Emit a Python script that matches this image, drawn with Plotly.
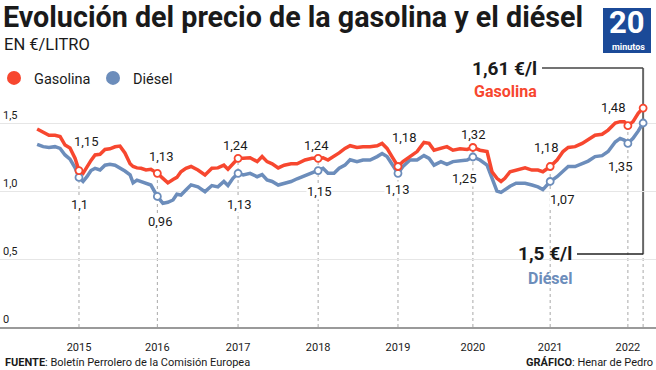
import plotly.graph_objects as go
import pandas as pd

# ---------------- data ----------------
fechas = [
    "2014-06-20", "2014-07-18", "2014-08-14", "2014-09-11", "2014-10-05", "2014-10-28", "2014-11-20", "2014-12-14",
    "2015-01-01", "2015-01-20", "2015-02-07", "2015-02-26", "2015-03-17", "2015-04-09", "2015-05-02", "2015-05-25",
    "2015-06-18", "2015-07-11", "2015-08-03", "2015-08-27", "2015-09-10", "2015-09-28", "2015-10-17", "2015-11-09",
    "2015-12-02", "2016-01-01", "2016-01-27", "2016-02-19", "2016-03-14", "2016-04-01", "2016-04-20", "2016-05-13",
    "2016-06-06", "2016-07-08", "2016-08-10", "2016-09-11", "2016-10-09", "2016-11-06", "2016-11-25", "2016-12-18",
    "2017-01-11", "2017-02-04", "2017-03-08", "2017-04-10", "2017-05-03", "2017-05-26", "2017-06-19", "2017-07-17",
    "2017-08-14", "2017-09-15", "2017-10-13", "2017-11-19", "2017-12-22", "2018-01-19", "2018-02-11", "2018-03-06",
    "2018-04-03", "2018-04-27", "2018-05-24", "2018-06-17", "2018-07-19", "2018-08-16", "2018-09-18", "2018-10-21",
    "2018-11-13", "2018-12-06", "2018-12-29", "2019-01-26", "2019-02-18", "2019-03-23", "2019-04-25", "2019-05-27",
    "2019-06-20", "2019-07-13", "2019-08-14", "2019-09-11", "2019-10-09", "2019-11-11", "2019-12-14", "2020-01-10",
    "2020-02-12", "2020-03-16", "2020-04-08", "2020-05-01", "2020-05-20", "2020-06-07", "2020-07-01", "2020-07-29",
    "2020-09-09", "2020-10-11", "2020-11-08", "2020-12-01", "2021-01-04", "2021-02-05", "2021-03-05", "2021-03-29",
    "2021-04-30", "2021-06-02", "2021-06-30", "2021-08-01", "2021-09-03", "2021-10-01", "2021-11-03", "2021-11-26",
    "2021-12-15", "2022-01-01", "2022-01-25", "2022-02-18", "2022-03-13",
]
gasolina = [
    1.456, 1.436, 1.41, 1.41, 1.40, 1.338, 1.316, 1.24,
    1.15, 1.13, 1.18, 1.225, 1.265, 1.27, 1.305, 1.31,
    1.325, 1.33, 1.28, 1.20, 1.18, 1.17, 1.167, 1.155,
    1.16, 1.13, 1.093, 1.06, 1.085, 1.10, 1.142, 1.167,
    1.18, 1.154, 1.118, 1.167, 1.17, 1.19, 1.16, 1.20,
    1.24, 1.24, 1.245, 1.216, 1.253, 1.216, 1.20, 1.17,
    1.19, 1.20, 1.20, 1.228, 1.24, 1.24, 1.245, 1.228,
    1.253, 1.28, 1.313, 1.333, 1.32, 1.326, 1.326, 1.333,
    1.35, 1.313, 1.253, 1.18, 1.216, 1.253, 1.29, 1.357,
    1.35, 1.30, 1.313, 1.326, 1.30, 1.31, 1.305, 1.32,
    1.30, 1.29, 1.142, 1.093, 1.07, 1.093, 1.142, 1.154,
    1.17, 1.154, 1.154, 1.142, 1.18, 1.228, 1.29, 1.32,
    1.326, 1.35, 1.375, 1.41, 1.417, 1.448, 1.50, 1.51,
    1.51, 1.48, 1.51, 1.571, 1.61,
]
diesel = [
    1.343, 1.326, 1.32, 1.326, 1.313, 1.265, 1.235, 1.17,
    1.10, 1.07, 1.105, 1.15, 1.167, 1.155, 1.19, 1.196,
    1.19, 1.17, 1.147, 1.118, 1.06, 1.08, 1.07, 1.057,
    1.044, 0.96, 0.91, 0.917, 0.934, 0.976, 0.97, 1.007,
    1.045, 1.03, 0.995, 1.04, 1.03, 1.07, 1.04, 1.093,
    1.13, 1.118, 1.13, 1.105, 1.12, 1.081, 1.07, 1.044,
    1.057, 1.07, 1.09, 1.113, 1.13, 1.15, 1.167, 1.13,
    1.13, 1.167, 1.19, 1.23, 1.216, 1.228, 1.228, 1.253,
    1.275, 1.253, 1.20, 1.13, 1.18, 1.228, 1.228, 1.26,
    1.24, 1.19, 1.216, 1.196, 1.216, 1.22, 1.228, 1.25,
    1.228, 1.19, 1.10, 1.00, 0.99, 1.01, 1.035, 1.057,
    1.057, 1.044, 1.03, 1.01, 1.07, 1.105, 1.147, 1.18,
    1.18, 1.20, 1.22, 1.253, 1.26, 1.29, 1.36, 1.387,
    1.375, 1.35, 1.387, 1.44, 1.50,
]
# highlighted dates (year markers) and their tick labels
fechas_clave = ["2015-01-01", "2016-01-01", "2017-01-11", "2018-01-19", "2019-01-26",
                "2020-01-10", "2021-01-04", "2022-01-01"]
etiquetas_anio = ["2015", "2016", "2017", "2018", "2019", "2020", "2021", "2022"]
y_ticks = [0, 0.5, 1.0, 1.5]
y_ticktext = ["0", "0,5", "1,0", "1,5"]

# ---------------- style ----------------
ROJO = "#f7472f"
AZUL = "#6c8dbb"
NEGRO = "#1a1a1a"
FONT = "Roboto, Liberation Sans, sans-serif"
# label offsets in px (dx, dy) for each highlighted point
off_gas = [(7, 29), (4, 17), (-3, 13), (-2, 13), (6, 29), (0, 13), (-4, 19), (-15, 18)]
off_die = [(1, -27), (3, -25), (1, -31), (1, -21), (-1, -16), (-9, -21), (12, -18), (-8, -23)]


def fmt(v):
    s = f"{v:.2f}".rstrip("0").rstrip(".")
    return s.replace(".", ",")


idx = [fechas.index(d) for d in fechas_clave]
ultima = fechas[-1]

fig = go.Figure()

# weekly minor ticks under the axis
semanas = pd.date_range(fechas[0], ultima, freq="7D")
fig.add_trace(go.Scatter(
    x=semanas, y=[-0.028] * len(semanas), mode="markers",
    marker=dict(symbol="line-ns", size=4, line=dict(width=1, color="#9a9a9a")),
    cliponaxis=False, hoverinfo="skip", showlegend=False))

# dotted guides
shapes = []
for i in idx:
    shapes.append(dict(type="line", xref="x", yref="y", x0=fechas[i], x1=fechas[i],
                       y0=0, y1=gasolina[i], line=dict(color="#a8a8a8", width=1, dash="dot"),
                       layer="below"))
# final connectors
Y_TOP, Y_BOT = 1.904, 0.537
X_TOP, X_BOT = "2020-11-27", "2021-05-09"
shapes += [
    dict(type="line", xref="x", yref="y", x0=ultima, x1=ultima, y0=0, y1=Y_BOT,
         line=dict(color="#a8a8a8", width=1, dash="dot"), layer="below"),
    dict(type="line", xref="x", yref="y", x0=ultima, x1=ultima, y0=Y_BOT, y1=Y_TOP,
         line=dict(color="#666666", width=2), layer="below"),
    dict(type="line", xref="x", yref="y", x0=X_TOP, x1=ultima, y0=Y_TOP, y1=Y_TOP,
         line=dict(color="#444444", width=1.5)),
    dict(type="line", xref="x", yref="y", x0=X_BOT, x1=ultima, y0=Y_BOT, y1=Y_BOT,
         line=dict(color="#222222", width=1.5)),
    # logo box
    dict(type="rect", xref="paper", yref="paper", x0=603 / 656, x1=651 / 656,
         y0=(327 - 53) / 327, y1=(327 - 8) / 327, fillcolor="#1b4a98", line=dict(width=0)),
]

# series lines
fig.add_trace(go.Scatter(x=fechas, y=diesel, mode="lines", line=dict(color=AZUL, width=3.5),
                         showlegend=False, hoverinfo="skip"))
fig.add_trace(go.Scatter(x=fechas, y=gasolina, mode="lines", line=dict(color=ROJO, width=3.5),
                         showlegend=False, hoverinfo="skip"))

# highlighted points
pts = idx + [len(fechas) - 1]
for serie, color in ((diesel, AZUL), (gasolina, ROJO)):
    fig.add_trace(go.Scatter(x=[fechas[i] for i in pts], y=[serie[i] for i in pts], mode="markers",
                             marker=dict(symbol="circle", size=7, color="white",
                                         line=dict(color=color, width=1.8)),
                             showlegend=False, hoverinfo="skip", cliponaxis=False))

# legend entries
fig.add_trace(go.Scatter(x=[None], y=[None], mode="markers", name="Gasolina",
                         marker=dict(symbol="circle", size=14, color=ROJO)))
fig.add_trace(go.Scatter(x=[None], y=[None], mode="markers", name="Diésel",
                         marker=dict(symbol="circle", size=14, color=AZUL)))

LBL = dict(family=FONT, size=13, color=NEGRO)
ann = []
for k, i in enumerate(idx):
    dx, dy = off_gas[k]
    ann.append(dict(x=fechas[i], y=gasolina[i], text=fmt(gasolina[i]), xshift=dx, yshift=dy,
                    showarrow=False, font=LBL))
    dx, dy = off_die[k]
    ann.append(dict(x=fechas[i], y=diesel[i], text=fmt(diesel[i]), xshift=dx, yshift=dy,
                    showarrow=False, bgcolor="white", borderpad=0, font=LBL))

# final value callouts
ann += [
    dict(x=X_TOP, y=Y_TOP, xanchor="right", xshift=-3, showarrow=False,
         text=f"<b>{fmt(gasolina[-1])} €/l</b>", font=dict(family=FONT, size=19, color=NEGRO)),
    dict(x=X_TOP, y=Y_TOP, xanchor="right", xshift=-3, yshift=-23, showarrow=False,
         text="<b>Gasolina</b>", font=dict(family=FONT, size=16, color=ROJO)),
    dict(x=X_BOT, y=Y_BOT, xanchor="right", xshift=-3, showarrow=False,
         text=f"<b>{fmt(diesel[-1])} €/l</b>", font=dict(family=FONT, size=19, color=NEGRO)),
    dict(x=X_BOT, y=Y_BOT, xanchor="right", xshift=-3, yshift=-25, showarrow=False,
         text="<b>Diésel</b>", font=dict(family=FONT, size=16, color=AZUL)),
    # subtitle
    dict(xref="paper", yref="paper", x=2 / 656, y=(327 - 45) / 327, xanchor="left", yanchor="middle",
         showarrow=False, text="EN €/LITRO", font=dict(family=FONT, size=16.5, color=NEGRO)),
    # logo text
    dict(xref="paper", yref="paper", x=627 / 656, y=(327 - 23) / 327, xanchor="center", yanchor="middle",
         showarrow=False, text="<b>20</b>", font=dict(family=FONT, size=31, color="white")),
    dict(xref="paper", yref="paper", x=628 / 656, y=(327 - 47) / 327, xanchor="center", yanchor="middle",
         showarrow=False, text="<b>minutos</b>", font=dict(family=FONT, size=9, color="white")),
    # footer
    dict(xref="paper", yref="paper", x=3 / 656, y=(327 - 362) / 327, xanchor="left", yanchor="middle",
         showarrow=False, text="<b>FUENTE</b>: Boletín Perrolero de la Comisión Europea",
         font=dict(family=FONT, size=11, color=NEGRO)),
    dict(xref="paper", yref="paper", x=655 / 656, y=(327 - 362) / 327, xanchor="right", yanchor="middle",
         showarrow=False, text="<b>GRÁFICO</b>: Henar de Pedro",
         font=dict(family=FONT, size=11, color=NEGRO)),
]

fig.update_layout(
    width=656, height=370,
    margin=dict(l=0, r=0, t=0, b=43, autoexpand=False),
    paper_bgcolor="white", plot_bgcolor="white",
    font=dict(family=FONT, color=NEGRO),
    title=dict(text="<b>Evolución del precio de la gasolina y el diésel</b>",
               x=3 / 656, xanchor="left", xref="container",
               y=1 - 17 / 370, yanchor="middle", yref="container",
               font=dict(family=FONT, size=28.7, color=NEGRO)),
    showlegend=True,
    legend=dict(orientation="h", x=-6 / 656, xanchor="left", y=(327 - 78) / 327, yanchor="middle",
                font=dict(family=FONT, size=14.5, color=NEGRO), itemsizing="trace",
                entrywidth=54, entrywidthmode="pixels",
                bgcolor="rgba(0,0,0,0)", traceorder="normal"),
    xaxis=dict(type="date", range=["2013-12-29", "2022-05-12"], showgrid=False, zeroline=False,
               tickvals=fechas_clave, ticktext=etiquetas_anio, ticks="", ticklabelstandoff=9,
               tickfont=dict(family=FONT, size=11, color=NEGRO),
               showline=True, linecolor="#9a9a9a", linewidth=2),
    yaxis=dict(range=[0, 327 / 136], tickvals=y_ticks, ticktext=y_ticktext, showgrid=True,
               gridcolor="#e6e6e6", gridwidth=1, zeroline=False, ticks="",
               ticklabelposition="inside top", tickfont=dict(family=FONT, size=11, color=NEGRO)),
    shapes=shapes, annotations=ann,
)

fig.write_html("out.html", config={"displayModeBar": False},
               post_script="document.body.style.margin='0';")
